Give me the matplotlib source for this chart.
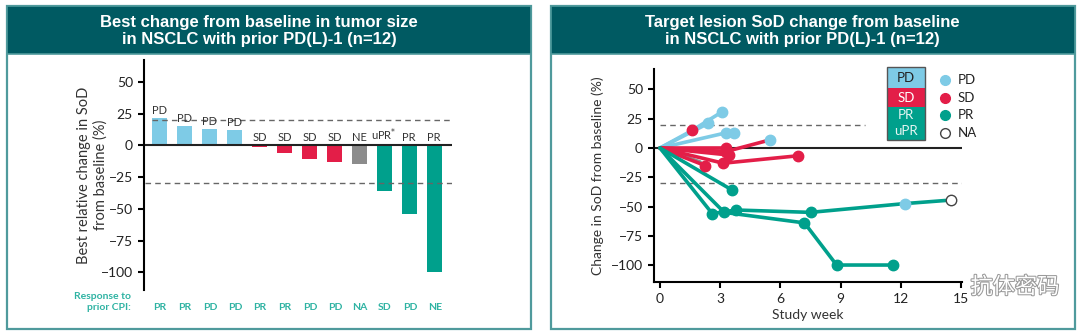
# Waterfall + spider plot, NSCLC with prior PD(L)-1
import numpy as np
import matplotlib
matplotlib.use('Agg')
import matplotlib.pyplot as plt
from matplotlib.patches import Rectangle
import matplotlib.patheffects as pe

# colours
HEADER = '#005a62'
BORDER = '#4f9a9c'
C_PD = '#7ecbe6'
C_SD = '#e31e48'
C_PR = '#00a08c'
C_NE = '#8c8c8c'
C_CPI = '#2fb3a3'
col = {'PD': C_PD, 'SD': C_SD, 'PR': C_PR, 'uPR': C_PR, 'NE': C_NE, 'NA': 'white'}

# waterfall data
wf_resp = ['PD', 'PD', 'PD', 'PD', 'SD', 'SD', 'SD', 'SD', 'NE', 'uPR', 'PR', 'PR']
wf_labels = ['PD', 'PD', 'PD', 'PD', 'SD', 'SD', 'SD', 'SD', 'NE', 'uPR*', 'PR', 'PR']
wf_values = [21.5, 15.5, 13, 12, -1.3, -5.7, -10.7, -13.3, -14.3, -35.6, -53.8, -99.5]
prior_cpi = ['PR', 'PR', 'PD', 'PD', 'PR', 'PR', 'PD', 'PD', 'NA', 'SD', 'PD', 'NE']

# spider data: weeks, values, marker responses, line colour
spider = [
    ([0, 1.6, 3.1], [0, 15, 31], ['SD', 'PD'], 'PD'),
    ([0, 2.4], [0, 21], ['PD'], 'PD'),
    ([0, 3.3, 3.7], [0, 13, 13], ['PD', 'PD'], 'PD'),
    ([0, 2.0], [0, -12], [], 'NE'),
    ([0, 3.3, 5.5], [0, -3, 7], ['SD', 'PD'], 'SD'),
    ([0, 3.15, 6.9], [0, -13, -6.6], ['SD', 'SD'], 'SD'),
    ([0, 3.3], [0, 0], ['SD'], 'SD'),
    ([0, 3.45], [0, -6], ['SD'], 'SD'),
    ([0, 2.25], [0, -15], ['SD'], 'SD'),
    ([0, 3.6], [0, -36], ['PR'], 'PR'),
    ([0, 2.6, 3.8, 7.5, 12.2, 14.5], [0, -56, -53, -55, -47.5, -44.5],
     ['PR', 'PR', 'PR', 'PD', 'NA'], 'PR'),
    ([0, 3.2, 7.2, 8.8, 11.6], [0, -55, -64, -100, -100], ['PR', 'PR', 'PR', 'PR'], 'PR'),
]

W, H = 1080, 335
fig = plt.figure(figsize=(W / 100, H / 100), dpi=100)

def box(x0, y0, x1, y1):
    # pixel box (top-left origin) -> figure fractions
    return [x0 / W, 1 - y1 / H, (x1 - x0) / W, (y1 - y0) / H]

LBL = ['Lato', 'DejaVu Sans']

# panels and headers
for (x0, x1, tx, title) in [(7, 531, 259, 'Best change from baseline in tumor size\nin NSCLC with prior PD(L)-1 (n=12)'),
                            (551, 1075, 802, 'Target lesion SoD change from baseline\nin NSCLC with prior PD(L)-1 (n=12)')]:
    fig.patches.append(Rectangle((x0 / W, 1 - 329 / H), (x1 - x0) / W, 323 / H,
                                 transform=fig.transFigure, fill=False,
                                 edgecolor=BORDER, lw=1.6))
    fig.patches.append(Rectangle((x0 / W, 1 - 54 / H), (x1 - x0) / W, 48 / H,
                                 transform=fig.transFigure, facecolor=HEADER,
                                 edgecolor=BORDER, lw=1.2))
    fig.text(tx / W, 1 - 31 / H, title, ha='center', va='center', color='white',
             fontsize=12, fontweight='bold', family='Liberation Sans', linespacing=1.2)

# ---------------- waterfall ----------------
ax1 = fig.add_axes(box(144, 60, 452, 290))
x = np.arange(len(wf_values))
ax1.bar(x, wf_values, width=0.6, color=[col[r] for r in wf_resp])
ax1.axhline(0, color='#222222', lw=1.5)
ax1.plot([-0.32, 11.7], [20, 20], ls=(0, (4, 3)), color='#666666', lw=1)
ax1.plot([-0.6, 11.7], [-30, -30], ls=(0, (4, 3)), color='#666666', lw=1)
ax1.set_xlim(-0.64, 11.72)
ax1.set_ylim(-113.9, 67.2)
ax1.set_yticks([50, 25, 0, -25, -50, -75, -100])
ax1.set_xticks([])
for s in ['top', 'right', 'bottom']:
    ax1.spines[s].set_visible(False)
ax1.spines['left'].set_linewidth(1.5)
ax1.tick_params(axis='y', length=4, width=1.5, labelsize=10, pad=4, labelcolor='#222222')
for t in ax1.get_yticklabels():
    t.set_family(LBL)
for i, (v, lab) in enumerate(zip(wf_values, wf_labels)):
    y = v + 1.5 if v > 0 else 2
    if lab.endswith('*'):
        ax1.text(i, y, 'uPR$^{*}$', ha='center', va='bottom', fontsize=8, family=LBL, color='#333333')
    else:
        ax1.text(i, y, lab, ha='center', va='bottom', fontsize=8, family=LBL, color='#333333')
ax1.set_ylabel('Best relative change in SoD\nfrom baseline (%)', fontsize=10.5, family=LBL,
               color='#333333', va='center')
ax1.yaxis.set_label_coords((92 - 144) / 308, 0.5)
fig.text(131 / W, 1 - 302 / H, 'Response to\nprior CPI:', ha='right', va='center',
         color=C_CPI, fontsize=7.5, fontweight='bold', family=LBL, linespacing=1.3)
for i, r in enumerate(prior_cpi):
    fig.text((160 + 25 * i) / W, 1 - 308 / H, r, ha='center', va='center',
             color=C_CPI, fontsize=7.5, fontweight='bold', family=LBL)

# ---------------- spider ----------------
ax2 = fig.add_axes(box(654, 69, 962, 282))
for wk, val, mk, lc in spider:
    ax2.plot(wk, val, color=col[lc], lw=2.6, solid_capstyle='round', zorder=2)
    for w, v, m in zip(wk[1:], val[1:], mk):
        if m == 'NA':
            ax2.plot(w, v, 'o', ms=7.5, mfc='white', mec='#444444', mew=1, zorder=3)
        else:
            ax2.plot(w, v, 'o', ms=7.5, color=col[m], zorder=3)
ax2.axhline(0, color='#222222', lw=1.5, zorder=1)
ax2.plot([0, 10.2], [20, 20], ls=(0, (4, 3)), color='#666666', lw=1, zorder=1)
ax2.plot([0, 15.05], [-30, -30], ls=(0, (4, 3)), color='#666666', lw=1, zorder=1)
ax2.set_xlim(-0.3, 15.05)
ax2.set_ylim(-114.5, 67.5)
ax2.set_xticks([0, 3, 6, 9, 12, 15])
ax2.set_yticks([50, 25, 0, -25, -50, -75, -100])
for s in ['top', 'right']:
    ax2.spines[s].set_visible(False)
ax2.spines['left'].set_linewidth(1.5)
ax2.spines['bottom'].set_linewidth(1.5)
ax2.tick_params(length=4, width=1.5, labelsize=10, pad=4, labelcolor='#222222')
for t in ax2.get_yticklabels() + ax2.get_xticklabels():
    t.set_family(LBL)
ax2.set_ylabel('Change in SoD from baseline (%)', fontsize=10, family=LBL, color='#333333', labelpad=5)
ax2.set_xlabel('Study week', fontsize=10, family=LBL, color='#333333', labelpad=3)

# legend: stacked colour box
for y0, y1, c, labs, tc in [(67, 88, C_PD, ['PD'], '#222222'),
                            (88, 107, C_SD, ['SD'], 'white'),
                            (107, 140, C_PR, ['PR', 'uPR'], '#e6f6f3')]:
    fig.patches.append(Rectangle((887 / W, 1 - y1 / H), 38 / W, (y1 - y0) / H,
                                 transform=fig.transFigure, facecolor=c, edgecolor='none'))
    for k, lab in enumerate(labs):
        yc = (y0 + y1) / 2 if len(labs) == 1 else y0 + 8 + 16 * k
        fig.text(906 / W, 1 - yc / H, lab, ha='center', va='center', color=tc,
                 fontsize=9.5, family=LBL)
fig.patches.append(Rectangle((887 / W, 1 - 140 / H), 38 / W, 73 / H,
                             transform=fig.transFigure, fill=False, edgecolor='#555555', lw=1))
# legend: markers
for yc, lab in zip([80, 98, 115, 133], ['PD', 'SD', 'PR', 'NA']):
    if lab == 'NA':
        fig.lines.append(plt.Line2D([945 / W], [1 - yc / H], marker='o', ms=7, mfc='white',
                                    mec='#444444', mew=1, transform=fig.transFigure))
    else:
        fig.lines.append(plt.Line2D([945 / W], [1 - yc / H], marker='o', ms=7, color=col[lab],
                                    transform=fig.transFigure))
    fig.text(958 / W, 1 - yc / H, lab, ha='left', va='center', color='#222222',
             fontsize=9.5, family=LBL)

# watermark
fig.text(1015 / W, 1 - 287 / H, '抗体密码', ha='center', va='center', fontsize=16,
         family=['Noto Sans CJK SC'], color='white',
         path_effects=[pe.withStroke(linewidth=1.5, foreground='#9a9a9a')])

fig.savefig('out.png', dpi=100)
